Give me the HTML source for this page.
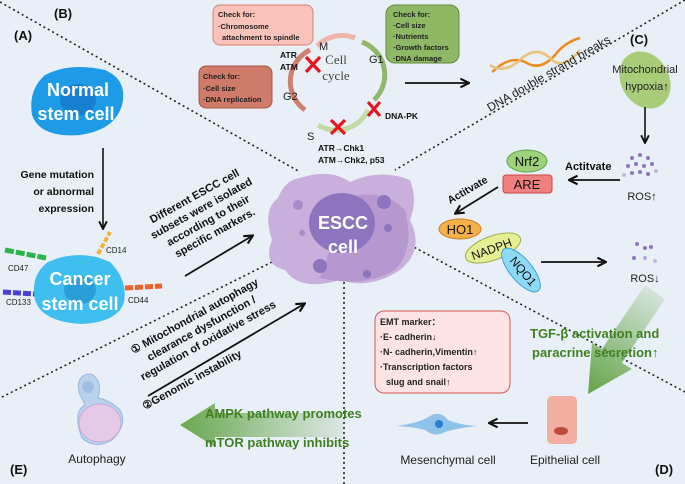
<!DOCTYPE html>
<html><head><meta charset="utf-8"><style>
html,body{margin:0;padding:0;background:#e9eff7;}
svg{display:block;font-family:"Liberation Sans",sans-serif;}
.b{font-weight:bold;}
</style></head><body>
<svg width="685" height="484" viewBox="0 0 685 484" xmlns="http://www.w3.org/2000/svg">
<defs>
<marker id="ah" viewBox="0 0 10 10" refX="8" refY="5" markerWidth="6" markerHeight="6" orient="auto"><path d="M1,1 L9,5 L1,9" fill="none" stroke="#111" stroke-width="2"/></marker>
<linearGradient id="gl" x1="0" x2="1"><stop offset="0" stop-color="#6aa84f"/><stop offset="1" stop-color="#6aa84f" stop-opacity="0.1"/></linearGradient>
<linearGradient id="gd" x1="655" y1="290" x2="595" y2="390" gradientUnits="userSpaceOnUse"><stop offset="0" stop-color="#6aa84f" stop-opacity="0.15"/><stop offset="1" stop-color="#6aa84f"/></linearGradient>
</defs>
<rect width="685" height="484" fill="#e9eff7"/>
<g stroke="#222" stroke-width="1.6" stroke-dasharray="2,3" fill="none">
<line x1="0" y1="2" x2="300" y2="172"/>
<line x1="685" y1="0" x2="395" y2="170"/>
<line x1="410" y1="245" x2="685" y2="392"/>
<line x1="344" y1="282" x2="344" y2="484"/>
<line x1="272" y1="262" x2="0" y2="398"/>
</g>
<g class="b" font-size="13" fill="#111">
<text x="14" y="40">(A)</text><text x="54" y="18">(B)</text><text x="630" y="44">(C)</text><text x="655" y="474">(D)</text><text x="10" y="474">(E)</text>
</g>
<path d="M45,75 Q70,62 105,70 Q128,80 122,105 Q115,130 80,135 Q40,138 32,115 Q28,90 45,75Z" fill="#1e9be6"/>
<ellipse cx="78" cy="100" rx="18" ry="16" fill="#167fcf"/>
<text x="78" y="96" text-anchor="middle" class="b" font-size="18" fill="#fff">Normal</text>
<text x="76" y="120" text-anchor="middle" class="b" font-size="18" fill="#fff">stem cell</text>
<line x1="103" y1="148" x2="103" y2="228" stroke="#111" stroke-width="1.6" marker-end="url(#ah)"/>
<g class="b" font-size="10.5" text-anchor="end" fill="#111"><text x="94" y="178">Gene mutation</text><text x="94" y="195">or abnormal</text><text x="94" y="212">expression</text></g>
<line x1="5" y1="250" x2="46" y2="258" stroke="#2cb34a" stroke-width="5" stroke-dasharray="9,2"/>
<line x1="3" y1="292" x2="35" y2="294" stroke="#4b3fd6" stroke-width="5" stroke-dasharray="8,2"/>
<line x1="125" y1="288" x2="162" y2="286" stroke="#f0602a" stroke-width="5" stroke-dasharray="8,2"/>
<line x1="98" y1="254" x2="110" y2="232" stroke="#f2b233" stroke-width="4" stroke-dasharray="5,2"/>
<path d="M48,262 Q80,248 110,262 Q128,280 124,302 Q118,322 82,324 Q42,322 35,300 Q30,275 48,262Z" fill="#3fbef0"/>
<ellipse cx="80" cy="290" rx="16" ry="14" fill="#2a9ed6"/>
<text x="80" y="285" text-anchor="middle" class="b" font-size="18" fill="#fff">Cancer</text>
<text x="80" y="310" text-anchor="middle" class="b" font-size="18" fill="#fff">stem cell</text>
<g font-size="8" fill="#222"><text x="8" y="271">CD47</text><text x="6" y="305">CD133</text><text x="128" y="303">CD44</text><text x="106" y="253">CD14</text></g>
<g transform="translate(205,215) rotate(-29)" class="b" font-size="11" text-anchor="middle" fill="#111">
<text x="0" y="-18">Different ESCC cell</text><text x="0" y="-4">subsets were isolated</text><text x="0" y="10">according to their</text><text x="0" y="24">specific markers.</text></g>
<line x1="185" y1="276" x2="252" y2="236" stroke="#111" stroke-width="1.8" marker-end="url(#ah)"/>
<path d="M300,178 Q330,168 350,182 Q380,168 410,180 Q418,200 410,220 Q425,250 400,270 Q370,290 340,280 Q300,292 285,270 Q262,265 272,240 Q262,210 278,198 Q285,180 300,178Z" fill="#c9b0dc"/>
<path d="M340,200 Q380,185 405,210 Q415,250 395,270 Q365,288 320,278 Q335,240 340,200Z" fill="#b697cf"/>
<ellipse cx="342" cy="223" rx="33" ry="30" fill="#8c74bf"/>
<circle cx="298" cy="205" r="5" fill="#a98bc9"/><circle cx="384" cy="202" r="7" fill="#8c74bf"/><circle cx="320" cy="266" r="7" fill="#8c74bf"/><circle cx="367" cy="274" r="4" fill="#8c74bf"/><circle cx="388" cy="228" r="4" fill="#8c74bf"/><circle cx="302" cy="233" r="3" fill="#a98bc9"/>
<text x="343" y="229" text-anchor="middle" class="b" font-size="18" fill="#fff">ESCC</text>
<text x="343" y="253" text-anchor="middle" class="b" font-size="18" fill="#fff">cell</text>
<g transform="translate(205,335) rotate(-29)" class="b" font-size="11" text-anchor="middle" fill="#111">
<text x="0" y="-18">① Mitochondrial autophagy</text><text x="0" y="-4">clearance dysfunction /</text><text x="0" y="10">regulation of oxidative stress</text></g>
<text transform="translate(145,410) rotate(-29)" class="b" font-size="11" fill="#111">②Genomic instability</text>
<line x1="148" y1="396" x2="304" y2="304" stroke="#111" stroke-width="1.8" marker-end="url(#ah)"/>
<path d="M85,375 Q75,380 80,395 Q83,400 85,405 Q72,412 82,438 Q95,450 112,440 Q128,425 120,410 Q110,400 98,398 Q102,385 96,378 Q92,372 85,375Z" fill="#b9d3ee" stroke="#9ab9dd"/>
<ellipse cx="100" cy="423" rx="21" ry="19" fill="#e6c9e6" stroke="#c9a9d6"/>
<circle cx="88" cy="387" r="6" fill="#9fbfe2"/>
<text x="97" y="463" text-anchor="middle" font-size="12" fill="#222">Autophagy</text>
<path d="M345,413 L215,413 L215,403 L180,425 L215,447 L215,437 L345,437Z" fill="url(#gl)"/>
<text x="205" y="418" class="b" font-size="13" fill="#3f8020">AMPK pathway promotes</text>
<text x="205" y="447" class="b" font-size="13" fill="#3f8020">mTOR pathway inhibits</text>
<path d="M317,46 A35,35 0 0 1 355,38" fill="none" stroke="#efb5aa" stroke-width="5"/>
<path d="M362,42 A35,35 0 0 1 374,100" fill="none" stroke="#8fb86a" stroke-width="5"/>
<path d="M368,110 A35,35 0 0 1 318,125" fill="none" stroke="#c4dba7" stroke-width="5"/>
<path d="M305,110 A35,35 0 0 1 310,50" fill="none" stroke="#cf7f6e" stroke-width="5"/>
<text x="336" y="64" text-anchor="middle" font-family="Liberation Serif,serif" font-size="13" fill="#444">Cell</text>
<text x="336" y="80" text-anchor="middle" font-family="Liberation Serif,serif" font-size="13" fill="#444">cycle</text>
<g font-size="11" fill="#222"><text x="319" y="50">M</text><text x="369" y="63">G1</text><text x="283" y="100">G2</text><text x="307" y="140">S</text></g>
<g stroke="#e8141b" stroke-width="3.2"><path d="M306,57 L320,72 M320,57 L306,72"/><path d="M368,102 L380,116 M380,102 L368,116"/><path d="M331,120 L345,134 M345,120 L331,134"/></g>
<g class="b" font-size="8.5" fill="#111"><text x="280" y="58">ATR</text><text x="280" y="70">ATM</text><text x="385" y="119">DNA-PK</text><text x="318" y="151">ATR→Chk1</text><text x="318" y="163">ATM→Chk2, p53</text></g>
<rect x="213" y="5" width="100" height="40" rx="7" fill="#f9c3bb" stroke="#d97f72"/>
<g class="b" font-size="7.5" fill="#222"><text x="218" y="17">Check for:</text><text x="218" y="29">·Chromosome</text><text x="222" y="40">attachment to spindle</text></g>
<rect x="199" y="66" width="73" height="42" rx="7" fill="#d07a6a" stroke="#a85445"/>
<g class="b" font-size="7.5" fill="#222"><text x="203" y="79">Check for:</text><text x="203" y="91">·Cell size</text><text x="203" y="102">·DNA replication</text></g>
<rect x="386" y="5" width="73" height="58" rx="9" fill="#8fb865" stroke="#5f8a3a"/>
<g class="b" font-size="7.5" fill="#222"><text x="393" y="17">Check for:</text><text x="393" y="28">·Cell size</text><text x="393" y="39">·Nutrients</text><text x="393" y="50">·Growth factors</text><text x="393" y="61">·DNA damage</text></g>
<line x1="405" y1="83" x2="468" y2="83" stroke="#111" stroke-width="1.8" marker-end="url(#ah)"/>
<path d="M492,72 Q510,55 525,62 Q540,72 555,55 Q565,42 580,38" fill="none" stroke="#f08a1a" stroke-width="2.5"/>
<path d="M490,65 Q505,75 522,58 Q538,45 552,60 Q565,70 580,50" fill="none" stroke="#e8c27a" stroke-width="2.5"/>
<text transform="translate(490,112) rotate(-30)" font-size="12" fill="#222">DNA double strand breaks</text>
<ellipse cx="645" cy="80" rx="24" ry="30" transform="rotate(-30 645 80)" fill="#a8cc78"/>
<text x="645" y="73" text-anchor="middle" font-size="11" fill="#222">Mitochondrial</text>
<text x="647" y="90" text-anchor="middle" font-size="11" fill="#222">hypoxia↑</text>
<line x1="645" y1="107" x2="645" y2="142" stroke="#111" stroke-width="1.6" marker-end="url(#ah)"/>
<g fill="#8d74bd"><circle cx="632" cy="158" r="2"/><circle cx="640" cy="155" r="2"/><circle cx="648" cy="158" r="2"/><circle cx="628" cy="166" r="2"/><circle cx="636" cy="164" r="2"/><circle cx="644" cy="166" r="2"/><circle cx="652" cy="164" r="2"/><circle cx="632" cy="173" r="2"/><circle cx="640" cy="172" r="2"/><circle cx="648" cy="174" r="2"/><circle cx="656" cy="171" r="2" fill="#c6b8e0"/><circle cx="624" cy="175" r="2" fill="#c6b8e0"/></g>
<text x="642" y="200" text-anchor="middle" font-size="11" fill="#222">ROS↑</text>
<line x1="620" y1="180" x2="570" y2="180" stroke="#111" stroke-width="1.8" marker-end="url(#ah)"/>
<text x="565" y="170" class="b" font-size="11" fill="#111">Actitvate</text>
<ellipse cx="527" cy="161" rx="20" ry="11" fill="#9bd27a" stroke="#5fa545"/>
<text x="527" y="166" text-anchor="middle" font-size="13" fill="#111">Nrf2</text>
<rect x="503" y="175" width="49" height="18" rx="3" fill="#ee8080" stroke="#c44"/>
<text x="527" y="189" text-anchor="middle" font-size="13" fill="#111">ARE</text>
<text transform="translate(450,204) rotate(-30)" class="b" font-size="10.5" fill="#111">Actitvate</text>
<line x1="498" y1="187" x2="456" y2="213" stroke="#111" stroke-width="1.8" marker-end="url(#ah)"/>
<ellipse cx="460" cy="229" rx="21" ry="10" fill="#f6b048" stroke="#c68020"/>
<text x="460" y="234" text-anchor="middle" font-size="13" fill="#111">HO1</text>
<ellipse cx="493" cy="248" rx="29" ry="12" transform="rotate(-20 493 248)" fill="#e5ee92" stroke="#9fb048"/>
<text transform="translate(493,253) rotate(-20)" text-anchor="middle" font-size="12" fill="#111">NADPH</text>
<ellipse cx="521" cy="270" rx="27" ry="11" transform="rotate(50 521 270)" fill="#8dd9f6" stroke="#3aa5d6"/>
<text transform="translate(520,274) rotate(50)" text-anchor="middle" font-size="12" fill="#111">NQO1</text>
<line x1="541" y1="262" x2="605" y2="262" stroke="#111" stroke-width="1.8" marker-end="url(#ah)"/>
<g fill="#8d74bd"><circle cx="637" cy="244" r="2"/><circle cx="645" cy="248" r="2"/><circle cx="651" cy="247" r="2"/><circle cx="634" cy="258" r="2"/><circle cx="645" cy="258" r="2" fill="#b8a8d8"/><circle cx="655" cy="261" r="2" fill="#c6b8e0"/></g>
<text x="645" y="282" text-anchor="middle" font-size="11" fill="#222">ROS↓</text>
<rect x="375" y="311" width="135" height="82" rx="9" fill="#fde3e3" stroke="#d9534f"/>
<g class="b" font-size="9" fill="#222"><text x="380" y="325">EMT marker：</text><text x="380" y="340">·E- cadherin↓</text><text x="380" y="355">·N- cadherin,Vimentin↑</text><text x="380" y="370">·Transcription factors</text><text x="386" y="385">slug and snail↑</text></g>
<polygon points="645,285 665,299 622,363 632,369 588,394 592,343 602,349" fill="url(#gd)"/>
<text x="530" y="338" class="b" font-size="13" fill="#3f8020">TGF-β activation and</text>
<text x="532" y="357" class="b" font-size="13" fill="#3f8020">paracrine secretion↑</text>
<rect x="547" y="396" width="30" height="48" rx="5" fill="#f2aea0"/>
<ellipse cx="561" cy="431" rx="7" ry="4" fill="#c04a3a"/>
<text x="565" y="464" text-anchor="middle" font-size="12" fill="#222">Epithelial cell</text>
<line x1="528" y1="423" x2="490" y2="423" stroke="#111" stroke-width="1.8" marker-end="url(#ah)"/>
<path d="M396,426 Q420,423 430,416 Q440,410 448,420 Q460,425 478,426 Q458,428 445,432 Q435,438 425,430 Q415,427 396,426Z" fill="#8fc4ea"/>
<circle cx="439" cy="424" r="4" fill="#2a7fd0"/>
<text x="448" y="464" text-anchor="middle" font-size="12" fill="#222">Mesenchymal cell</text>
</svg>
</body></html>
